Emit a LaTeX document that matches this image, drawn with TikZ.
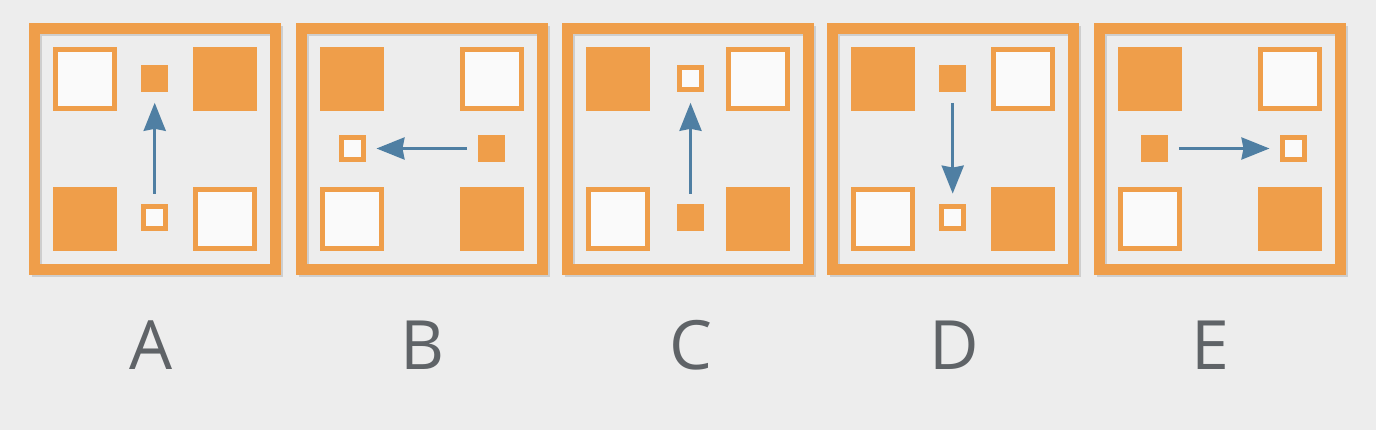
\documentclass[tikz,border=0pt]{standalone}
\usepackage{fontspec}
\setmainfont{Open Sans}
\usetikzlibrary{arrows.meta}
\definecolor{bgc}{HTML}{EDEDED}
\definecolor{org}{HTML}{EF9E4A}
\definecolor{wht}{HTML}{FAFAFA}
\definecolor{blu}{HTML}{4F7FA3}
\definecolor{txt}{HTML}{5F6367}
\tikzset{
  frm/.style={draw=org, line width=10.5pt, minimum size=241pt, inner sep=0pt},
  frmshadow/.style={draw=black, draw opacity=0.13, line width=10.5pt, minimum size=241pt, inner sep=0pt},
  bigfill/.style={fill=org, minimum size=64pt, inner sep=0pt, outer sep=0pt},
  bigwhite/.style={fill=wht, draw=org, line width=5pt, minimum size=59pt, inner sep=0pt},
  smfill/.style={fill=org, minimum size=27pt, inner sep=0pt, outer sep=0pt},
  smwhite/.style={fill=wht, draw=org, line width=5pt, minimum size=22pt, inner sep=0pt},
  mv/.style={draw=blu, line width=3pt, -{Stealth[length=28pt,width=22pt,inset=2pt]}, shorten <=10.5pt, shorten >=10.5pt},
  lbl/.style={text=txt, font=\fontsize{68}{80}\selectfont, anchor=base, inner sep=0pt}
}
\begin{document}
\begin{tikzpicture}[x=1pt,y=-1pt]
\fill[bgc] (0,0) rectangle (1376,430);
\useasboundingbox (0,0) rectangle (1376,430);
% shadows
\node[frmshadow] (sa) at (157.55,151.55) {};
\node[frmshadow] (sb) at (424.25,151.55) {};
\node[frmshadow] (sc) at (690.55,151.55) {};
\node[frmshadow] (sd) at (955.55,151.55) {};
\node[frmshadow] (se) at (1222.25,151.55) {};
% frames
\node[frm] (fa) at (155.05,149.05) {};
\node[frm] (fb) at (421.75,149.05) {};
\node[frm] (fc) at (688.05,149.05) {};
\node[frm] (fd) at (953.05,149.05) {};
\node[frm] (fe) at (1219.75,149.05) {};
% panel A
\node[bigwhite] (atl) at (85.3,79.3) {};
\node[bigfill] (atr) at (224.8,79.3) {};
\node[bigfill] (abl) at (85.3,218.8) {};
\node[bigwhite] (abr) at (224.8,218.8) {};
\node[smfill] (at) at (154.7,78.8) {};
\node[smwhite] (ab) at (154.7,217.6) {};
\draw[mv] (ab) -- (at);
% panel B
\node[bigfill] (btl) at (352,79.3) {};
\node[bigwhite] (btr) at (491.5,79.3) {};
\node[bigwhite] (bbl) at (352,218.8) {};
\node[bigfill] (bbr) at (491.5,218.8) {};
\node[smwhite] (bl) at (352.5,148.5) {};
\node[smfill] (br) at (491,148.5) {};
\draw[mv] (br) -- (bl);
% panel C
\node[bigfill] (ctl) at (618.3,79.3) {};
\node[bigwhite] (ctr) at (757.8,79.3) {};
\node[bigwhite] (cbl) at (618.3,218.8) {};
\node[bigfill] (cbr) at (757.8,218.8) {};
\node[smwhite] (ct) at (690.5,78.8) {};
\node[smfill] (cb) at (690.5,217.6) {};
\draw[mv] (cb) -- (ct);
% panel D
\node[bigfill] (dtl) at (883.3,79.3) {};
\node[bigwhite] (dtr) at (1022.8,79.3) {};
\node[bigwhite] (dbl) at (883.3,218.8) {};
\node[bigfill] (dbr) at (1022.8,218.8) {};
\node[smfill] (dt) at (952.7,78.8) {};
\node[smwhite] (db) at (952.7,217.6) {};
\draw[mv] (dt) -- (db);
% panel E
\node[bigfill] (etl) at (1150,79.3) {};
\node[bigwhite] (etr) at (1289.5,79.3) {};
\node[bigwhite] (ebl) at (1150,218.8) {};
\node[bigfill] (ebr) at (1289.5,218.8) {};
\node[smfill] (el) at (1154.8,148.5) {};
\node[smwhite] (er) at (1293.5,148.5) {};
\draw[mv] (el) -- (er);
% labels
\node[lbl] (la) at (151,369) {A};
\node[lbl] (lb) at (422.5,369) {B};
\node[lbl] (lc) at (691,369) {C};
\node[lbl] (ld) at (954,369) {D};
\node[lbl] (le) at (1210,369) {E};
\end{tikzpicture}
\end{document}
